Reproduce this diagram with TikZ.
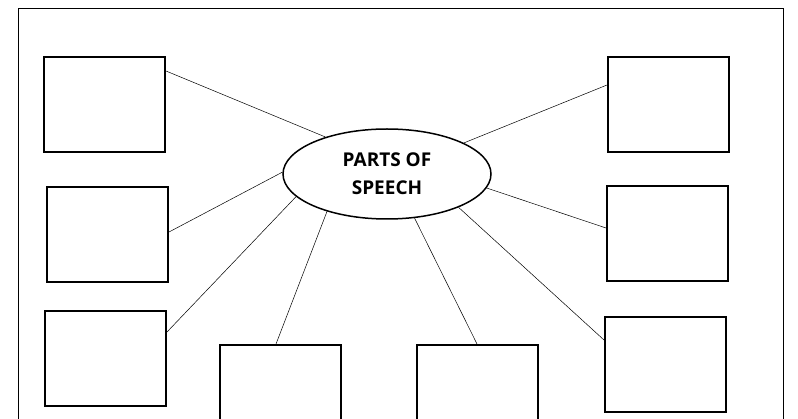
\documentclass[tikz,border=0pt]{standalone}
\usepackage{fontspec}
\setmainfont{Open Sans}
\usetikzlibrary{shapes.geometric,calc}
\begin{document}
\begin{tikzpicture}[x=1pt,y=-1pt,
  bx/.style={draw,line width=2pt,minimum width=121pt,minimum height=95pt,inner sep=0pt},
  ln/.style={draw,line width=0.5pt}]
\useasboundingbox (0,0) rectangle (798,419);
\draw[line width=0.6pt] (18,419) -- (18,8) -- (783,8) -- (783,419);
\node[bx] (b1) at (104.5,104.5) {};
\node[bx] (b2) at (107.5,234.5) {};
\node[bx] (b3) at (105.5,358.5) {};
\begin{scope}
\clip (0,0) rectangle (798,419);
\node[bx] (b4) at (280.5,392.5) {};
\node[bx] (b5) at (477.5,392.5) {};
\end{scope}
\node[bx] (b6) at (668.5,104.5) {};
\node[bx] (b7) at (667.5,233.5) {};
\node[bx] (b8) at (665.5,364.5) {};
\node[draw,line width=1.5pt,ellipse,minimum width=208pt,minimum height=90pt,inner sep=0pt,align=center,font=\bfseries\fontsize{19}{28}\selectfont] (e) at (387,174) {PARTS OF\\SPEECH};
\draw[ln] ($(b1.north east)+(0,15)$) -- (e.149.7);
\draw[ln] ($(b2.north east)+(0,46)$) -- (e.179);
\draw[ln] ($(b3.north east)+(0,22)$) -- (e.194.8);
\draw[ln] ($(b4.north west)+(57,0)$) -- (e.212.4);
\draw[ln] ($(b5.north west)+(61,0)$) -- (e.302.9);
\draw[ln] ($(b6.north west)+(0,29)$) -- (e.22.4);
\draw[ln] ($(b7.north west)+(0,43)$) -- (e.352.8);
\draw[ln] ($(b8.north west)+(0,24)$) -- (e.335.5);
\end{tikzpicture}
\end{document}
